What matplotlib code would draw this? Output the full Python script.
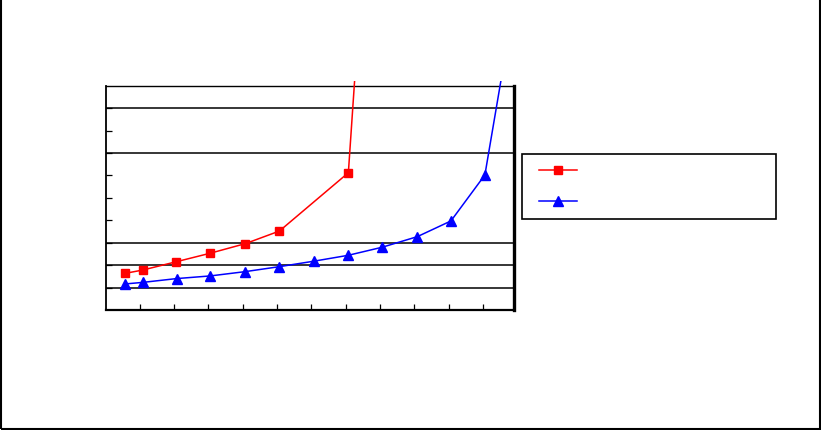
import matplotlib
matplotlib.use("Agg")
import matplotlib.pyplot as plt
from matplotlib.patches import Rectangle
from matplotlib.legend_handler import HandlerLine2D

# series (no text was shown on the chart)
red_x = [0.56, 1.08, 2.06, 3.05, 4.08, 5.07, 7.08, 8.07]
red_y = [1.63, 1.78, 2.15, 2.53, 2.96, 3.52, 6.12, 28.4]
blue_x = [0.56, 1.08, 2.07, 3.06, 4.07, 5.06, 6.09, 7.08, 8.07, 9.09, 10.07, 11.06, 12.07]
blue_y = [1.16, 1.23, 1.40, 1.52, 1.71, 1.93, 2.18, 2.44, 2.80, 3.27, 3.97, 6.02, 15.1]
x_ticks = list(range(1, 12))
y_ticks = list(range(1, 10))
grid_levels = [1, 2, 3, 7, 9]

W, H = 821, 431
fig = plt.figure(figsize=(W / 100, H / 100), dpi=100)

# outer chart frame
fig.patches.append(Rectangle((0.5 / W, 1 - 429.5 / H), 819 / W, 431 / H,
                             transform=fig.transFigure, fill=False,
                             edgecolor="black", linewidth=1.5))

left, right, top, bottom = 105.5, 513.7, 86.7, 311.0
ax = fig.add_axes([left / W, 1 - bottom / H, (right - left) / W, (bottom - top) / H])
ax.set_xlim(0, 11.9)
ax.set_ylim(0, 10)

ax.hlines(grid_levels, 0, 11.9, colors="black", linewidth=1.1, zorder=1)

# lines run a few pixels past the top of the plot area
clip = Rectangle((0, 0), 1, 1.023, transform=ax.transAxes)
red_line, = ax.plot(red_x, red_y, color="#ff0000", lw=1.1, marker="s", ms=6,
                    mec="#ff0000", mfc="#ff0000", zorder=3)
blue_line, = ax.plot(blue_x, blue_y, color="#0000ff", lw=1.1, marker="^", ms=7,
                     mec="#0000ff", mfc="#0000ff", zorder=3)
for ln in (red_line, blue_line):
    ln.set_clip_path(clip)

ax.set_xticks(x_ticks)
ax.set_yticks(y_ticks)
ax.set_xticklabels([])
ax.set_yticklabels([])
ax.tick_params(axis="both", direction="in", length=4.5, width=0.9, color="black")

ax.spines["top"].set_linewidth(1.0)
ax.spines["left"].set_linewidth(1.3)
ax.spines["bottom"].set_linewidth(1.6)
ax.spines["right"].set_linewidth(2.4)

lx0, ly0, lw_, lh_ = 521.7, 155.3, 254.0, 63.7
leg = ax.legend([red_line, blue_line], ["", ""], loc="upper left",
                bbox_to_anchor=(lx0 / W, 1 - ly0 / H, lw_ / W, 0),
                bbox_transform=fig.transFigure, mode="expand", borderaxespad=0,
                fontsize=10, borderpad=0.70, labelspacing=1.24, handlelength=3.25,
                numpoints=1, fancybox=False, framealpha=1,
                handler_map={red_line: HandlerLine2D(xpad=0.54),
                             blue_line: HandlerLine2D(xpad=0.54)})
leg.get_frame().set_edgecolor("black")
leg.get_frame().set_linewidth(1.2)

fig.savefig("out.png", dpi=100)
